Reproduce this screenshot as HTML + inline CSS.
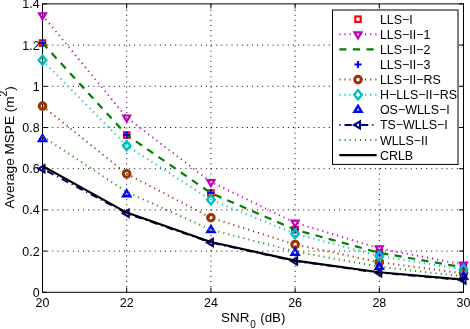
<!DOCTYPE html>
<html><head><meta charset="utf-8"><title>Average MSPE vs SNR</title>
<style>html,body{margin:0;padding:0;background:#fff}body{width:470px;height:329px;overflow:hidden}</style></head>
<body>
<svg width="470" height="329" viewBox="0 0 470 329" style="display:block">
<rect width="470" height="329" fill="#fff"/>
<line x1="42.5" y1="251.10" x2="463.5" y2="251.10" stroke="#000" stroke-width="1" stroke-dasharray="1 4.12" stroke-dashoffset="0.4" fill="none"/>
<line x1="42.5" y1="209.90" x2="463.5" y2="209.90" stroke="#000" stroke-width="1" stroke-dasharray="1 4.12" stroke-dashoffset="0.4" fill="none"/>
<line x1="42.5" y1="168.70" x2="463.5" y2="168.70" stroke="#000" stroke-width="1" stroke-dasharray="1 4.12" stroke-dashoffset="0.4" fill="none"/>
<line x1="42.5" y1="127.50" x2="463.5" y2="127.50" stroke="#000" stroke-width="1" stroke-dasharray="1 4.12" stroke-dashoffset="0.4" fill="none"/>
<line x1="42.5" y1="86.30" x2="463.5" y2="86.30" stroke="#000" stroke-width="1" stroke-dasharray="1 4.12" stroke-dashoffset="0.4" fill="none"/>
<line x1="42.5" y1="45.10" x2="463.5" y2="45.10" stroke="#000" stroke-width="1" stroke-dasharray="1 4.12" stroke-dashoffset="0.4" fill="none"/>
<line x1="126.70" y1="292.3" x2="126.70" y2="3.9" stroke="#000" stroke-width="1" stroke-dasharray="1 4.12" stroke-dashoffset="0" fill="none"/>
<line x1="210.90" y1="292.3" x2="210.90" y2="3.9" stroke="#000" stroke-width="1" stroke-dasharray="1 4.12" stroke-dashoffset="0" fill="none"/>
<line x1="295.10" y1="292.3" x2="295.10" y2="3.9" stroke="#000" stroke-width="1" stroke-dasharray="1 4.12" stroke-dashoffset="0" fill="none"/>
<line x1="379.30" y1="292.3" x2="379.30" y2="3.9" stroke="#000" stroke-width="1" stroke-dasharray="1 4.12" stroke-dashoffset="0" fill="none"/>
<rect x="42.5" y="3.9" width="421.0" height="288.40000000000003" fill="none" stroke="#000" stroke-width="1"/>
<line x1="42.5" y1="292.30" x2="47.1" y2="292.30" stroke="#000"/>
<line x1="463.5" y1="292.30" x2="458.9" y2="292.30" stroke="#000"/>
<line x1="42.5" y1="251.10" x2="47.1" y2="251.10" stroke="#000"/>
<line x1="463.5" y1="251.10" x2="458.9" y2="251.10" stroke="#000"/>
<line x1="42.5" y1="209.90" x2="47.1" y2="209.90" stroke="#000"/>
<line x1="463.5" y1="209.90" x2="458.9" y2="209.90" stroke="#000"/>
<line x1="42.5" y1="168.70" x2="47.1" y2="168.70" stroke="#000"/>
<line x1="463.5" y1="168.70" x2="458.9" y2="168.70" stroke="#000"/>
<line x1="42.5" y1="127.50" x2="47.1" y2="127.50" stroke="#000"/>
<line x1="463.5" y1="127.50" x2="458.9" y2="127.50" stroke="#000"/>
<line x1="42.5" y1="86.30" x2="47.1" y2="86.30" stroke="#000"/>
<line x1="463.5" y1="86.30" x2="458.9" y2="86.30" stroke="#000"/>
<line x1="42.5" y1="45.10" x2="47.1" y2="45.10" stroke="#000"/>
<line x1="463.5" y1="45.10" x2="458.9" y2="45.10" stroke="#000"/>
<line x1="42.5" y1="3.90" x2="47.1" y2="3.90" stroke="#000"/>
<line x1="463.5" y1="3.90" x2="458.9" y2="3.90" stroke="#000"/>
<line x1="42.50" y1="292.3" x2="42.50" y2="287.7" stroke="#000"/>
<line x1="42.50" y1="3.9" x2="42.50" y2="8.5" stroke="#000"/>
<line x1="126.70" y1="292.3" x2="126.70" y2="287.7" stroke="#000"/>
<line x1="126.70" y1="3.9" x2="126.70" y2="8.5" stroke="#000"/>
<line x1="210.90" y1="292.3" x2="210.90" y2="287.7" stroke="#000"/>
<line x1="210.90" y1="3.9" x2="210.90" y2="8.5" stroke="#000"/>
<line x1="295.10" y1="292.3" x2="295.10" y2="287.7" stroke="#000"/>
<line x1="295.10" y1="3.9" x2="295.10" y2="8.5" stroke="#000"/>
<line x1="379.30" y1="292.3" x2="379.30" y2="287.7" stroke="#000"/>
<line x1="379.30" y1="3.9" x2="379.30" y2="8.5" stroke="#000"/>
<line x1="463.50" y1="292.3" x2="463.50" y2="287.7" stroke="#000"/>
<line x1="463.50" y1="3.9" x2="463.50" y2="8.5" stroke="#000"/>
<text transform="translate(39.60,296.80) scale(0.99,1)" text-anchor="end" font-family="Liberation Sans, Arial, Helvetica, sans-serif" font-size="12.6" fill="#000">0</text>
<text transform="translate(39.60,255.60) scale(0.99,1)" text-anchor="end" font-family="Liberation Sans, Arial, Helvetica, sans-serif" font-size="12.6" fill="#000">0.2</text>
<text transform="translate(39.60,214.40) scale(0.99,1)" text-anchor="end" font-family="Liberation Sans, Arial, Helvetica, sans-serif" font-size="12.6" fill="#000">0.4</text>
<text transform="translate(39.60,173.20) scale(0.99,1)" text-anchor="end" font-family="Liberation Sans, Arial, Helvetica, sans-serif" font-size="12.6" fill="#000">0.6</text>
<text transform="translate(39.60,132.00) scale(0.99,1)" text-anchor="end" font-family="Liberation Sans, Arial, Helvetica, sans-serif" font-size="12.6" fill="#000">0.8</text>
<text transform="translate(39.60,90.80) scale(0.99,1)" text-anchor="end" font-family="Liberation Sans, Arial, Helvetica, sans-serif" font-size="12.6" fill="#000">1</text>
<text transform="translate(39.60,49.60) scale(0.99,1)" text-anchor="end" font-family="Liberation Sans, Arial, Helvetica, sans-serif" font-size="12.6" fill="#000">1.2</text>
<text transform="translate(39.60,8.40) scale(0.99,1)" text-anchor="end" font-family="Liberation Sans, Arial, Helvetica, sans-serif" font-size="12.6" fill="#000">1.4</text>
<text transform="translate(42.50,306.90) scale(0.99,1)" text-anchor="middle" font-family="Liberation Sans, Arial, Helvetica, sans-serif" font-size="12.6" fill="#000">20</text>
<text transform="translate(126.70,306.90) scale(0.99,1)" text-anchor="middle" font-family="Liberation Sans, Arial, Helvetica, sans-serif" font-size="12.6" fill="#000">22</text>
<text transform="translate(210.90,306.90) scale(0.99,1)" text-anchor="middle" font-family="Liberation Sans, Arial, Helvetica, sans-serif" font-size="12.6" fill="#000">24</text>
<text transform="translate(295.10,306.90) scale(0.99,1)" text-anchor="middle" font-family="Liberation Sans, Arial, Helvetica, sans-serif" font-size="12.6" fill="#000">26</text>
<text transform="translate(379.30,306.90) scale(0.99,1)" text-anchor="middle" font-family="Liberation Sans, Arial, Helvetica, sans-serif" font-size="12.6" fill="#000">28</text>
<text transform="translate(463.50,306.90) scale(0.99,1)" text-anchor="middle" font-family="Liberation Sans, Arial, Helvetica, sans-serif" font-size="12.6" fill="#000">30</text>
<text transform="translate(221.00,322.40) scale(1.035,1)" text-anchor="start" font-family="Liberation Sans, Arial, Helvetica, sans-serif" font-size="13" fill="#000">SNR</text>
<text transform="translate(250.30,328.30) scale(1.0,1)" text-anchor="start" font-family="Liberation Sans, Arial, Helvetica, sans-serif" font-size="10" fill="#000">0</text>
<text transform="translate(260.20,322.40) scale(1.03,1)" text-anchor="start" font-family="Liberation Sans, Arial, Helvetica, sans-serif" font-size="13" fill="#000">(dB)</text>
<text transform="translate(14.20,208.60) rotate(-90) scale(1.045,1)" text-anchor="start" font-family="Liberation Sans, Arial, Helvetica, sans-serif" font-size="13" fill="#000">Average MSPE (m<tspan font-size="10" dy="-7.6">2</tspan><tspan dy="7.6">)</tspan></text>
<clipPath id="cp"><rect x="36.5" y="-2.1" width="433.0" height="300.40000000000003"/></clipPath>
<g>
<rect x="39.75" y="40.29" width="5.5" height="5.5" fill="none" stroke="#ff0000" stroke-width="2.1"/>
<rect x="123.95" y="132.28" width="5.5" height="5.5" fill="none" stroke="#ff0000" stroke-width="2.1"/>
<rect x="208.15" y="190.32" width="5.5" height="5.5" fill="none" stroke="#ff0000" stroke-width="2.1"/>
<rect x="292.35" y="226.94" width="5.5" height="5.5" fill="none" stroke="#ff0000" stroke-width="2.1"/>
<rect x="376.55" y="250.04" width="5.5" height="5.5" fill="none" stroke="#ff0000" stroke-width="2.1"/>
<rect x="460.75" y="264.62" width="5.5" height="5.5" fill="none" stroke="#ff0000" stroke-width="2.1"/>
<polyline points="42.50,15.23 126.70,117.48 210.90,182.00 295.10,222.70 379.30,248.39 463.50,264.59" fill="none" stroke="#bf00bf" stroke-width="2" stroke-dasharray="1.1 4.05" />
<polygon points="39.05,13.24 45.95,13.24 42.50,19.21" fill="none" stroke="#bf00bf" stroke-width="2.2" stroke-linejoin="miter"/>
<polygon points="123.25,115.49 130.15,115.49 126.70,121.47" fill="none" stroke="#bf00bf" stroke-width="2.2" stroke-linejoin="miter"/>
<polygon points="207.45,180.01 214.35,180.01 210.90,185.98" fill="none" stroke="#bf00bf" stroke-width="2.2" stroke-linejoin="miter"/>
<polygon points="291.65,220.71 298.55,220.71 295.10,226.69" fill="none" stroke="#bf00bf" stroke-width="2.2" stroke-linejoin="miter"/>
<polygon points="375.85,246.40 382.75,246.40 379.30,252.37" fill="none" stroke="#bf00bf" stroke-width="2.2" stroke-linejoin="miter"/>
<polygon points="460.05,262.60 466.95,262.60 463.50,268.58" fill="none" stroke="#bf00bf" stroke-width="2.2" stroke-linejoin="miter"/>
<polyline points="42.50,43.04 126.70,135.03 210.90,193.07 295.10,229.69 379.30,252.79 463.50,267.37" fill="none" stroke="#008000" stroke-width="2.2" stroke-dasharray="7.2 6.4" />
<path d="M39.00 43.04H46.00M42.50 39.54V46.54" stroke="#0000ff" stroke-width="2" fill="none"/>
<path d="M123.20 135.03H130.20M126.70 131.53V138.53" stroke="#0000ff" stroke-width="2" fill="none"/>
<path d="M207.40 193.07H214.40M210.90 189.57V196.57" stroke="#0000ff" stroke-width="2" fill="none"/>
<path d="M291.60 229.69H298.60M295.10 226.19V233.19" stroke="#0000ff" stroke-width="2" fill="none"/>
<path d="M375.80 252.79H382.80M379.30 249.29V256.29" stroke="#0000ff" stroke-width="2" fill="none"/>
<path d="M460.00 267.37H467.00M463.50 263.87V270.87" stroke="#0000ff" stroke-width="2" fill="none"/>
<polyline points="42.50,106.08 126.70,173.85 210.90,217.73 295.10,244.51 379.30,262.22 463.50,273.35" fill="none" stroke="#993300" stroke-width="2" stroke-dasharray="1.1 4.05" />
<circle cx="42.50" cy="106.08" r="3.3" fill="none" stroke="#993300" stroke-width="3.0"/>
<circle cx="126.70" cy="173.85" r="3.3" fill="none" stroke="#993300" stroke-width="3.0"/>
<circle cx="210.90" cy="217.73" r="3.3" fill="none" stroke="#993300" stroke-width="3.0"/>
<circle cx="295.10" cy="244.51" r="3.3" fill="none" stroke="#993300" stroke-width="3.0"/>
<circle cx="379.30" cy="262.22" r="3.3" fill="none" stroke="#993300" stroke-width="3.0"/>
<circle cx="463.50" cy="273.35" r="3.3" fill="none" stroke="#993300" stroke-width="3.0"/>
<polyline points="42.50,60.34 126.70,145.63 210.90,199.81 295.10,233.80 379.30,256.04 463.50,269.43" fill="none" stroke="#00bfbf" stroke-width="2" stroke-dasharray="1.1 4.05" />
<polygon points="38.70,60.34 42.50,55.74 46.30,60.34 42.50,64.94" fill="none" stroke="#00bfbf" stroke-width="2.4"/>
<polygon points="122.90,145.63 126.70,141.03 130.50,145.63 126.70,150.23" fill="none" stroke="#00bfbf" stroke-width="2.4"/>
<polygon points="207.10,199.81 210.90,195.21 214.70,199.81 210.90,204.41" fill="none" stroke="#00bfbf" stroke-width="2.4"/>
<polygon points="291.30,233.80 295.10,229.20 298.90,233.80 295.10,238.40" fill="none" stroke="#00bfbf" stroke-width="2.4"/>
<polygon points="375.50,256.04 379.30,251.44 383.10,256.04 379.30,260.64" fill="none" stroke="#00bfbf" stroke-width="2.4"/>
<polygon points="459.70,269.43 463.50,264.83 467.30,269.43 463.50,274.03" fill="none" stroke="#00bfbf" stroke-width="2.4"/>
<polygon points="38.90,141.04 46.10,141.04 42.50,135.04" fill="none" stroke="#0000ff" stroke-width="2.4" stroke-linejoin="miter"/>
<polygon points="123.10,196.24 130.30,196.24 126.70,190.24" fill="none" stroke="#0000ff" stroke-width="2.4" stroke-linejoin="miter"/>
<polygon points="207.30,232.09 214.50,232.09 210.90,226.09" fill="none" stroke="#0000ff" stroke-width="2.4" stroke-linejoin="miter"/>
<polygon points="291.50,254.75 298.70,254.75 295.10,248.75" fill="none" stroke="#0000ff" stroke-width="2.4" stroke-linejoin="miter"/>
<polygon points="375.70,268.76 382.90,268.76 379.30,262.76" fill="none" stroke="#0000ff" stroke-width="2.4" stroke-linejoin="miter"/>
<polygon points="459.90,278.85 467.10,278.85 463.50,272.85" fill="none" stroke="#0000ff" stroke-width="2.4" stroke-linejoin="miter"/>
<polyline points="42.50,168.70 126.70,213.30 210.90,242.55 295.10,261.03 379.30,272.69 463.50,280.04" fill="none" stroke="#000080" stroke-width="2" stroke-dasharray="1.2 4 7.3 4" />
<polygon points="44.50,165.10 44.50,172.30 38.50,168.70" fill="none" stroke="#000080" stroke-width="2.1" stroke-linejoin="miter"/>
<polygon points="128.70,209.70 128.70,216.90 122.70,213.30" fill="none" stroke="#000080" stroke-width="2.1" stroke-linejoin="miter"/>
<polygon points="212.90,238.95 212.90,246.15 206.90,242.55" fill="none" stroke="#000080" stroke-width="2.1" stroke-linejoin="miter"/>
<polygon points="297.10,257.43 297.10,264.63 291.10,261.03" fill="none" stroke="#000080" stroke-width="2.1" stroke-linejoin="miter"/>
<polygon points="381.30,269.09 381.30,276.29 375.30,272.69" fill="none" stroke="#000080" stroke-width="2.1" stroke-linejoin="miter"/>
<polygon points="465.50,276.44 465.50,283.64 459.50,280.04" fill="none" stroke="#000080" stroke-width="2.1" stroke-linejoin="miter"/>
<polyline points="42.50,136.36 126.70,191.98 210.90,229.68 295.10,251.51 379.30,266.76 463.50,276.44" fill="none" stroke="#1f901f" stroke-width="2" stroke-dasharray="1.1 4.05" />
<polyline points="42.50,166.02 126.70,212.62 210.90,242.03 295.10,260.58 379.30,272.29 463.50,279.67" fill="none" stroke="#000" stroke-width="2.15" />
</g>
<rect x="332.5" y="10.0" width="125.5" height="154.4" fill="#fff" stroke="#000" stroke-width="1"/>
<rect x="355.25" y="16.45" width="5.5" height="5.5" fill="none" stroke="#ff0000" stroke-width="2.1"/>
<text transform="translate(379.90,23.70) scale(0.99,1)" text-anchor="start" font-family="Liberation Sans, Arial, Helvetica, sans-serif" font-size="12.6" fill="#000">LLS−I</text>
<polyline points="339.30,34.30 376.60,34.30" fill="none" stroke="#bf00bf" stroke-width="2" stroke-dasharray="1.1 4.05" />
<polygon points="354.55,32.31 361.45,32.31 358.00,38.28" fill="none" stroke="#bf00bf" stroke-width="2.2" stroke-linejoin="miter"/>
<text transform="translate(379.90,38.80) scale(0.99,1)" text-anchor="start" font-family="Liberation Sans, Arial, Helvetica, sans-serif" font-size="12.6" fill="#000">LLS−II−1</text>
<polyline points="339.30,49.40 376.60,49.40" fill="none" stroke="#008000" stroke-width="2.2" stroke-dasharray="7.2 6.4" />
<text transform="translate(379.90,53.90) scale(0.99,1)" text-anchor="start" font-family="Liberation Sans, Arial, Helvetica, sans-serif" font-size="12.6" fill="#000">LLS−II−2</text>
<path d="M354.50 64.50H361.50M358.00 61.00V68.00" stroke="#0000ff" stroke-width="2" fill="none"/>
<text transform="translate(379.90,69.00) scale(0.99,1)" text-anchor="start" font-family="Liberation Sans, Arial, Helvetica, sans-serif" font-size="12.6" fill="#000">LLS−II−3</text>
<polyline points="339.30,79.60 376.60,79.60" fill="none" stroke="#993300" stroke-width="2" stroke-dasharray="1.1 4.05" />
<circle cx="358.00" cy="79.60" r="3.3" fill="none" stroke="#993300" stroke-width="3.0"/>
<text transform="translate(379.90,84.10) scale(0.99,1)" text-anchor="start" font-family="Liberation Sans, Arial, Helvetica, sans-serif" font-size="12.6" fill="#000">LLS−II−RS</text>
<polyline points="339.30,94.70 376.60,94.70" fill="none" stroke="#00bfbf" stroke-width="2" stroke-dasharray="1.1 4.05" />
<polygon points="354.20,94.70 358.00,90.10 361.80,94.70 358.00,99.30" fill="none" stroke="#00bfbf" stroke-width="2.4"/>
<text transform="translate(379.90,99.20) scale(0.99,1)" text-anchor="start" font-family="Liberation Sans, Arial, Helvetica, sans-serif" font-size="12.6" fill="#000">H−LLS−II−RS</text>
<polygon points="354.40,111.80 361.60,111.80 358.00,105.80" fill="none" stroke="#0000ff" stroke-width="2.4" stroke-linejoin="miter"/>
<text transform="translate(379.90,114.30) scale(0.99,1)" text-anchor="start" font-family="Liberation Sans, Arial, Helvetica, sans-serif" font-size="12.6" fill="#000">OS−WLLS−I</text>
<polyline points="339.30,124.90 376.60,124.90" fill="none" stroke="#000080" stroke-width="2" stroke-dasharray="1.2 4 7.3 4" />
<polygon points="360.00,121.30 360.00,128.50 354.00,124.90" fill="none" stroke="#000080" stroke-width="2.1" stroke-linejoin="miter"/>
<text transform="translate(379.90,129.40) scale(0.99,1)" text-anchor="start" font-family="Liberation Sans, Arial, Helvetica, sans-serif" font-size="12.6" fill="#000">TS−WLLS−I</text>
<polyline points="339.30,140.00 376.60,140.00" fill="none" stroke="#1f901f" stroke-width="2" stroke-dasharray="1.1 4.05" />
<text transform="translate(379.90,144.50) scale(0.99,1)" text-anchor="start" font-family="Liberation Sans, Arial, Helvetica, sans-serif" font-size="12.6" fill="#000">WLLS−II</text>
<polyline points="339.30,155.10 376.60,155.10" fill="none" stroke="#000" stroke-width="2.15" />
<text transform="translate(379.90,159.60) scale(0.99,1)" text-anchor="start" font-family="Liberation Sans, Arial, Helvetica, sans-serif" font-size="12.6" fill="#000">CRLB</text>
</svg>
</body></html>
